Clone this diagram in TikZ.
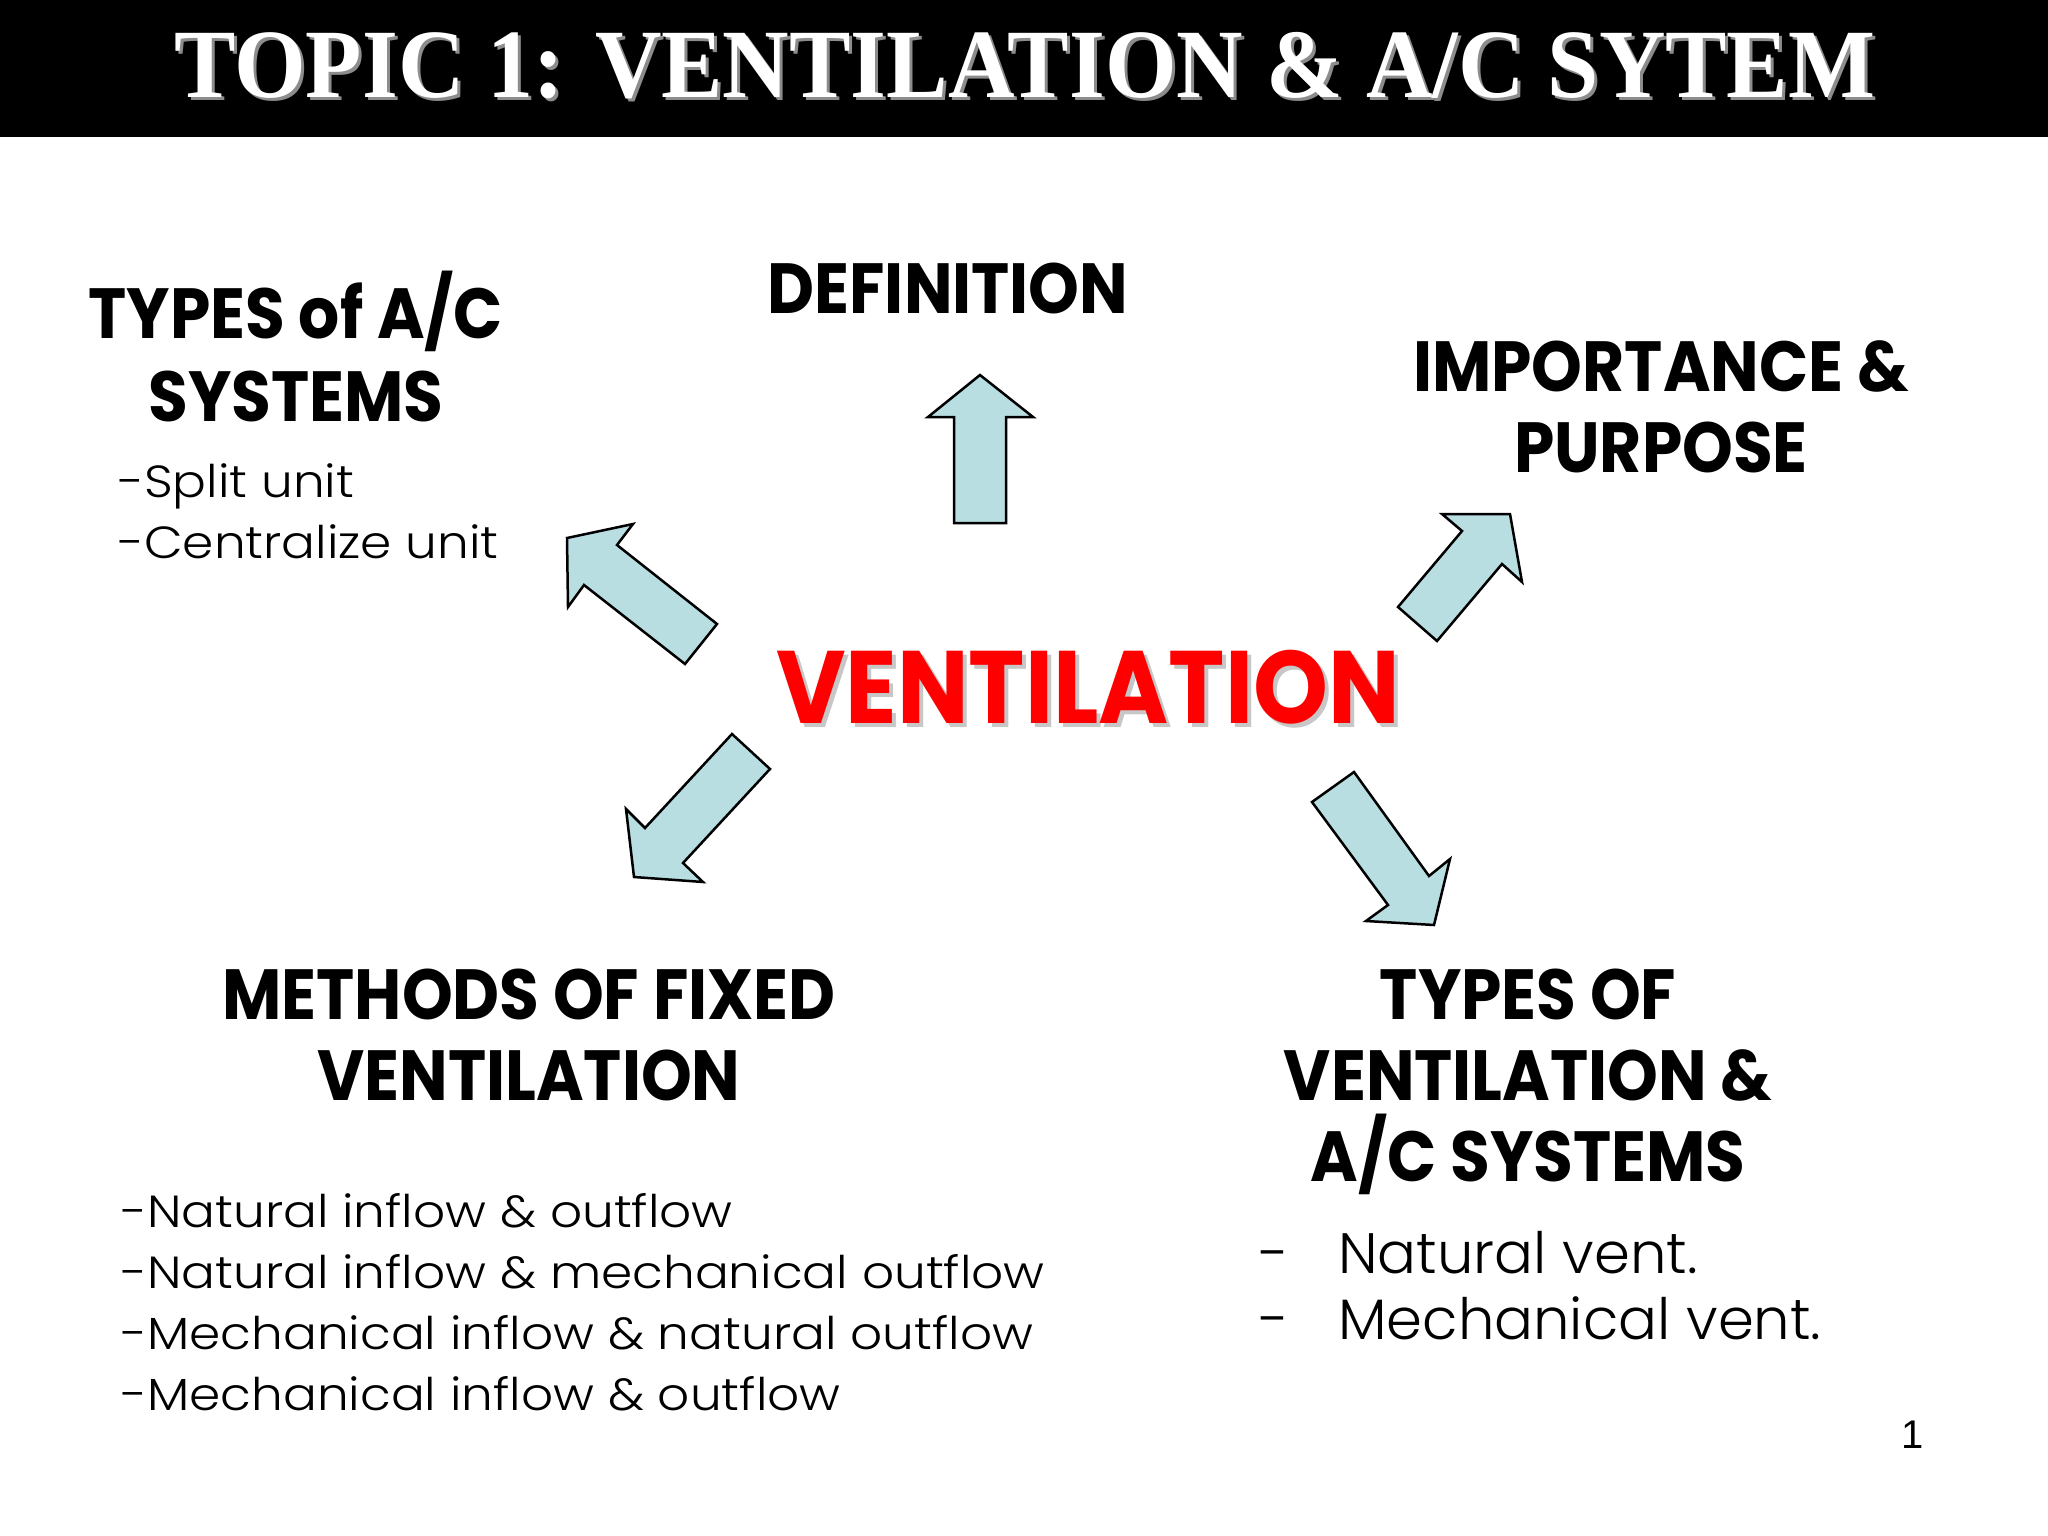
\documentclass[tikz,border=0pt]{standalone}
\usepackage{fontspec}
\newfontfamily\headfont{Poppins}[FakeStretch=0.91]
\newfontfamily\ventfont{Poppins}[FakeStretch=0.925]
\newfontfamily\bodyfont{Poppins Light}[FakeStretch=1.115]
\newfontfamily\popfont{Poppins Light}[FakeStretch=1.012]
\newfontfamily\titlefont{Liberation Serif}[FakeStretch=0.94]
\newfontfamily\numfont{Liberation Sans}
\definecolor{arrowfill}{RGB}{184,222,225}
\definecolor{ventred}{RGB}{255,0,0}
\definecolor{shadowgray}{RGB}{140,140,140}
\begin{document}
\begin{tikzpicture}[x=1pt,y=-1pt,
  head/.style={font=\headfont\bfseries\fontsize{71}{71}\selectfont, anchor=base, inner sep=0pt},
  body/.style={font=\bodyfont\fontsize{45}{45}\selectfont, anchor=base west, inner sep=0pt},
  bodyr/.style={font=\popfont\fontsize{57}{57}\selectfont, anchor=base west, inner sep=0pt},
  titletext/.style={font=\titlefont\bfseries\fontsize{98}{98}\selectfont, anchor=base, inner sep=0pt},
  blockarrow/.style={fill=arrowfill, draw=black, line width=2.5pt, line join=miter}]
\useasboundingbox (0,0) rectangle (2048,1536);
\fill[white] (0,0) rectangle (2048,1536);
\fill[black] (0,0) rectangle (2048,137);
% title
\node[titletext, text=shadowgray] (titleshadow) at (1028,101) {TOPIC 1: VENTILATION \& A/C SYTEM};
\node[titletext, text=white] (title) at (1025,98) {TOPIC 1: VENTILATION \& A/C SYTEM};
% block arrows
\draw[blockarrow] (954,523) -- (954,417) -- (928,417) -- (980,375) -- (1033,417) -- (1006,417) -- (1006,523) -- cycle;
\draw[blockarrow] (717,624) -- (617,545) -- (633,524) -- (567,538) -- (568,607) -- (584,585) -- (685,664) -- cycle;
\draw[blockarrow] (1398,607) -- (1462,531) -- (1442,514) -- (1510,514) -- (1522,582) -- (1502,564) -- (1437,641) -- cycle;
\draw[blockarrow] (732,734) -- (645,828) -- (626,809) -- (634,877) -- (703,882) -- (683,863) -- (770,769) -- cycle;
\draw[blockarrow] (1312,802) -- (1388,905) -- (1366,921) -- (1434,925) -- (1450,859) -- (1429,876) -- (1354,772) -- cycle;
% centre
\node[font=\ventfont\bfseries\fontsize{103}{103}\selectfont, anchor=base, inner sep=0pt, text=black!22] (ventshadow) at (1092,727) {VENTILATION};
\node[font=\ventfont\bfseries\fontsize{103}{103}\selectfont, anchor=base, inner sep=0pt, text=ventred] (vent) at (1088,723) {VENTILATION};
% headings
\node[head] (def) at (948,313) {DEFINITION};
\node[head] (typesac1) at (296,338) {TYPES of A/C};
\node[head] (typesac2) at (296,421) {SYSTEMS};
\node[head] (imp1) at (1661,391) {IMPORTANCE \&};
\node[head] (imp2) at (1661,472) {PURPOSE};
\node[head] (meth1) at (529,1019) {METHODS OF FIXED};
\node[head] (meth2) at (529,1100) {VENTILATION};
\node[head] (typesv1) at (1528,1019) {TYPES OF};
\node[head] (typesv2) at (1528,1100) {VENTILATION \&};
\node[head] (typesv3) at (1528,1181) {A/C SYSTEMS};
% lists
\node[body] (split) at (118,497) {-Split unit};
\node[body] (central) at (118,558) {-Centralize unit};
\node[body] (m1) at (121,1227) {-Natural inflow \& outflow};
\node[body] (m2) at (121,1288) {-Natural inflow \& mechanical outflow};
\node[body] (m3) at (121,1349) {-Mechanical inflow \& natural outflow};
\node[body] (m4) at (121,1410) {-Mechanical inflow \& outflow};
\node[bodyr] (d1) at (1259,1273) {-};
\node[bodyr] (d2) at (1259,1339) {-};
\node[bodyr] (v1) at (1338,1273) {Natural vent.};
\node[bodyr] (v2) at (1338,1339) {Mechanical vent.};
% page number
\node[font=\numfont\fontsize{40}{40}\selectfont, anchor=base, inner sep=0pt] (pagenum) at (1913,1448) {1};
\end{tikzpicture}
\end{document}
